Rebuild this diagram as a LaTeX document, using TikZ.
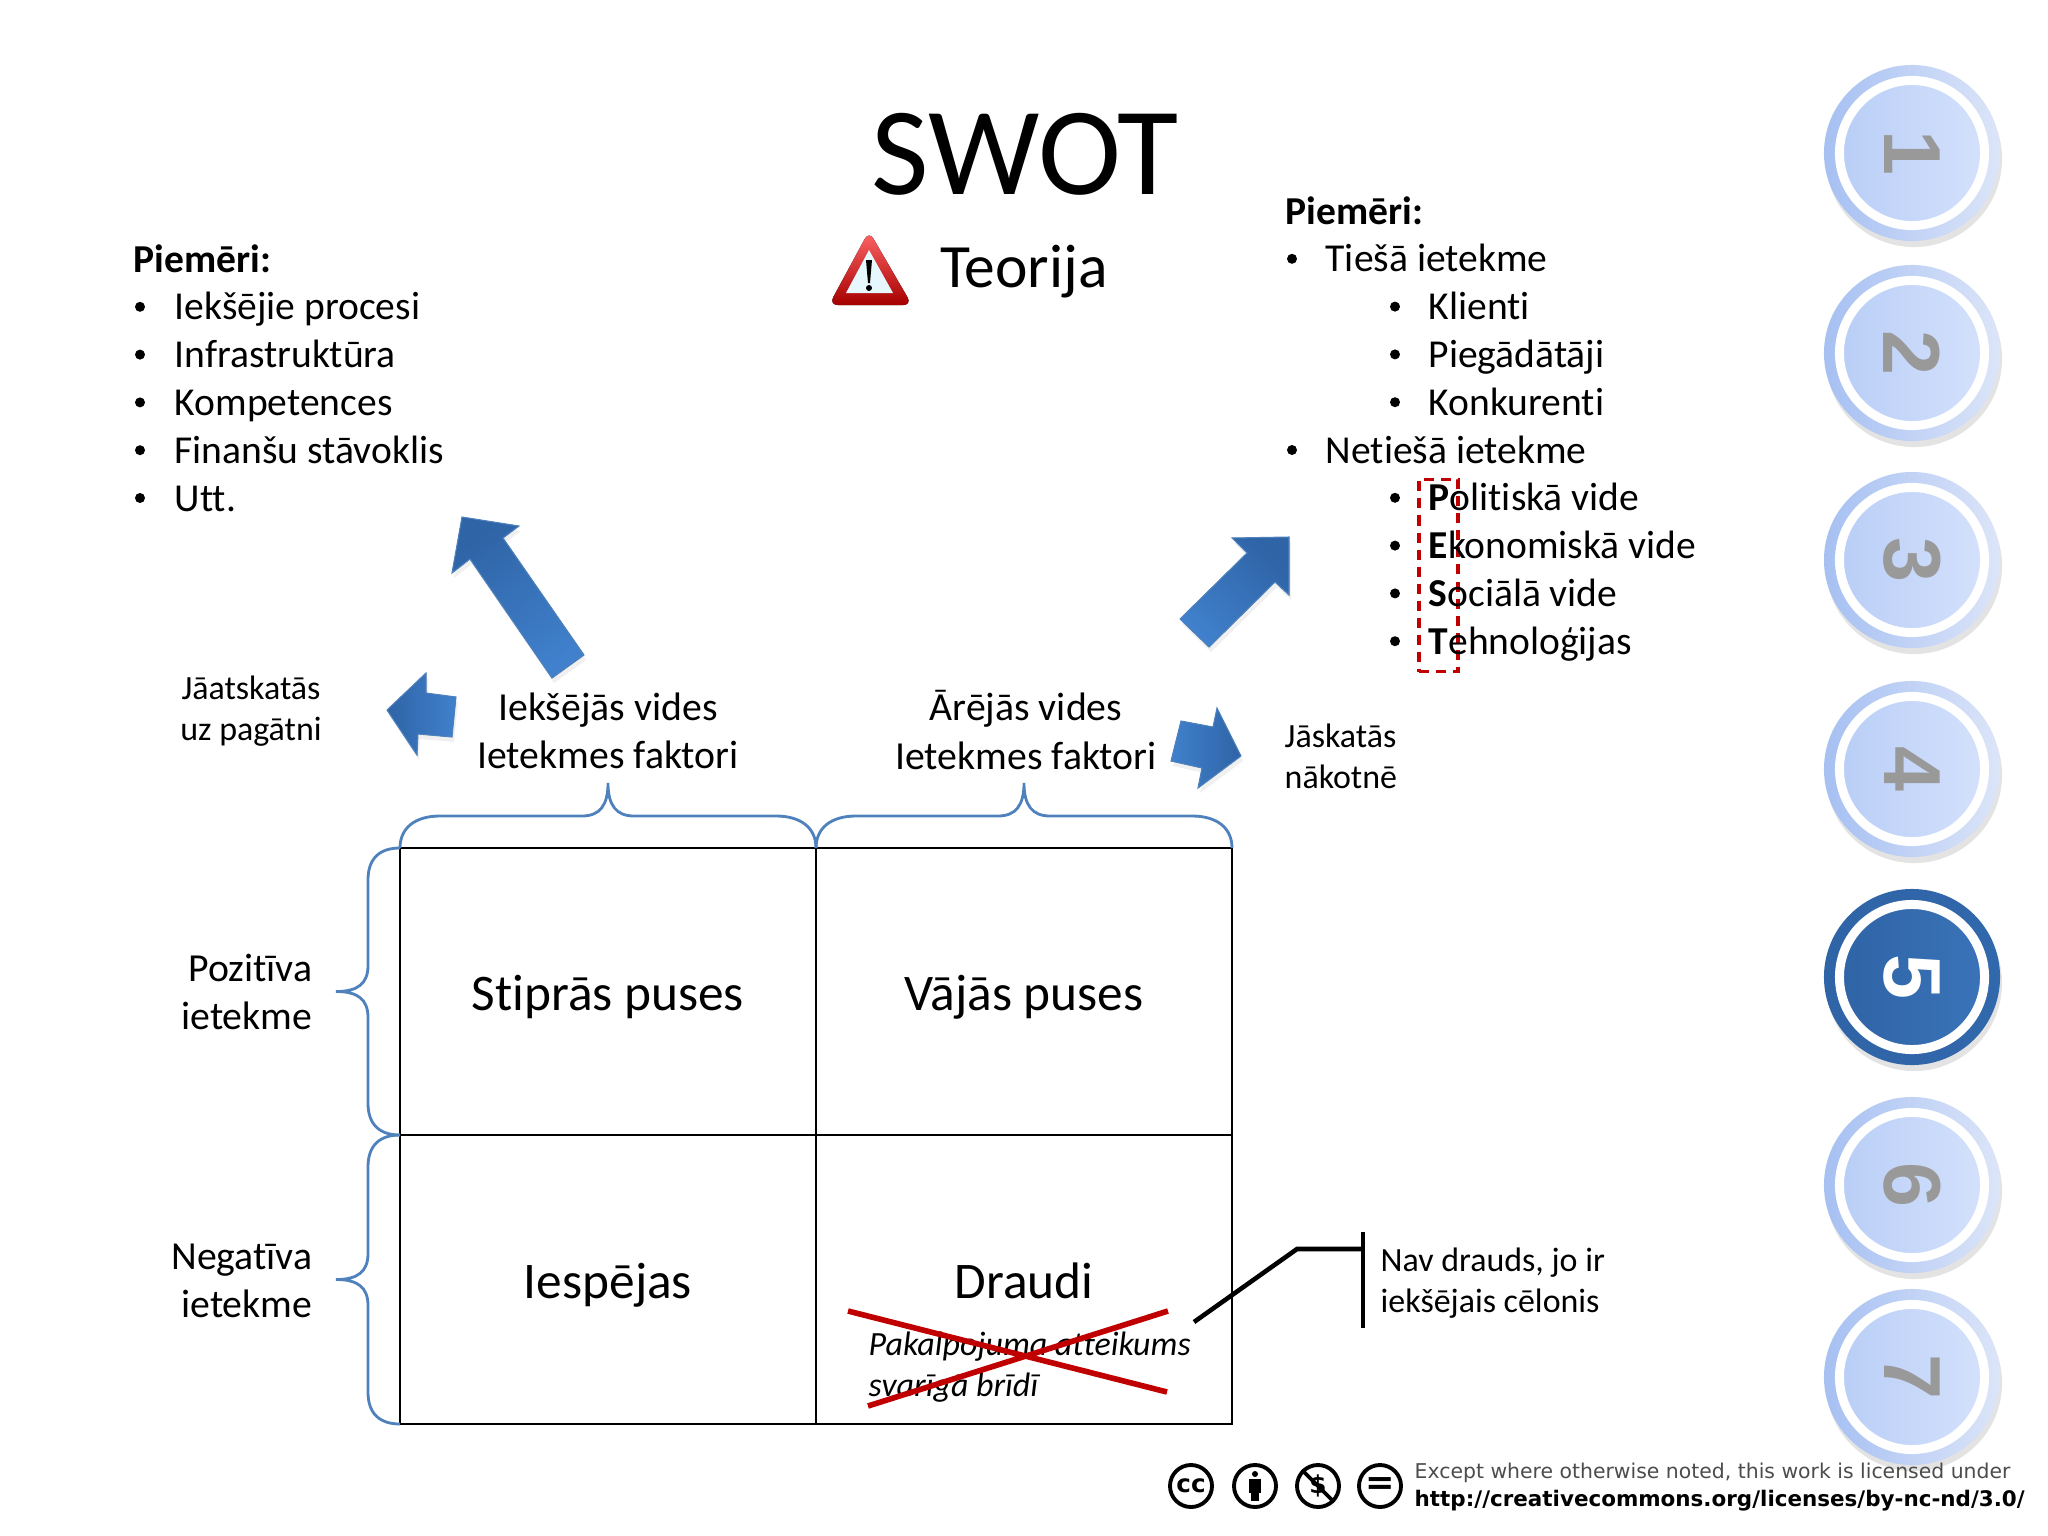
\documentclass[tikz,border=0pt]{standalone}
\usepackage{fontspec}
\usepackage{graphicx}
\setmainfont{Carlito}[Ligatures=CommonOff]
\newfontfamily\ccfont{DejaVu Sans}
\newfontfamily\digitfont{Liberation Sans}
\usetikzlibrary{shadows}
\definecolor{braceblue}{HTML}{4F81BD}
\definecolor{headblue}{HTML}{2F64A6}
\definecolor{tailblue}{HTML}{4080CC}
\definecolor{crossred}{HTML}{C00000}
\definecolor{paleleft}{HTML}{A6C0F2}
\definecolor{paleright}{HTML}{DCE5F8}
\definecolor{faceleft}{HTML}{B9CEF6}
\definecolor{faceright}{HTML}{D4E1FC}
\begin{document}
\begin{tikzpicture}
    [x=0.01cm,y=-0.01cm,
     titletext/.style={inner sep=0pt,font=\fontsize{35.6}{42}\selectfont},
     subtitle/.style={inner sep=0pt,font=\fontsize{17.5}{20}\selectfont},
     bigtext/.style={inner sep=0pt,align=center,font=\fontsize{11.3}{13.66}\selectfont},
     listtext/.style={inner sep=0pt,anchor=base west,font=\fontsize{11.25}{13.66}\selectfont},
     listdot/.style={circle,fill,inner sep=0pt,minimum size=0.1cm},
     smalltext/.style={inner sep=0pt,align=left,font=\fontsize{9.65}{11.66}\selectfont},
     celltext/.style={draw,line width=0.75pt,inner sep=0pt,minimum width=4.16cm,
       text height=13pt,text depth=2.4pt,font=\fontsize{14.6}{18}\selectfont},
     bluebrace/.style={draw=braceblue,line width=0.8pt},
     bigarrow/.style={top color=headblue,bottom color=tailblue,draw=braceblue,line width=0.3pt,
       drop shadow={shadow xshift=0.2mm,shadow yshift=-0.5mm,opacity=.12}},
     outerdisc/.style={circle,inner sep=0pt,minimum size=1.76cm,left color=#1,
       drop shadow={shadow xshift=0.2mm,shadow yshift=-0.6mm,opacity=.22}},
     innerdisc/.style={circle,inner sep=0pt,minimum size=1.45cm,draw=white,line width=0.09cm,
       font=\digitfont\bfseries\fontsize{23}{23}\selectfont},
     cclogo/.style={circle,draw,line width=1.1pt,inner sep=0pt,minimum size=0.42cm,
       font=\ccfont\bfseries\fontsize{7}{7}\selectfont},
     cctext/.style={inner sep=0pt,anchor=base west,font=\ccfont\fontsize{5.8}{6}\selectfont}]
    \useasboundingbox (0,0) rectangle (2048,1536);

    % title
    \node (title) at (1025,154) [titletext] {SWOT};
    \node (theory) at (1024,272) [subtitle] {Teorija};
    \fill [rounded corners=2.5pt,top color=red!60!white,bottom color=red!65!black]
      (869,231) -- (912,305) -- (829,305) -- cycle;
    \fill [white!90!cyan] (869,250) -- (893,293) -- (846,293) -- cycle;
    \fill (866,260) -- (872,260) -- (870,283) -- (868,283) -- cycle;
    \fill (869,288) circle (0.03cm);

    % lists
    \node (leftHead) at (133,272) [listtext] {\textbf{Piemēri:}};
    \foreach \txt [count=\i] in {Iekšējie procesi,Infrastruktūra,Kompetences,Finanšu stāvoklis,Utt.}
      {\node (leftDot\i) at (140,{259+47.8*\i}) [listdot] {};
       \node (leftItem\i) at (174,{272+47.8*\i}) [listtext] {\txt};}

    \node (pestBox) at (1438.5,575.5) [draw=crossred,dashed,line width=0.9pt,
      dash pattern=on 0.1cm off 0.07cm,minimum width=0.39cm,minimum height=1.92cm,inner sep=0pt] {};
    \node (rightHead) at (1285,224) [listtext] {\textbf{Piemēri:}};
    \foreach \txt/\n in {Tiešā ietekme/1,Netiešā ietekme/5}
      {\node (rightDot\n) at (1292,{211+47.8*\n}) [listdot] {};
       \node (rightItem\n) at (1325,{224+47.8*\n}) [listtext] {\txt};}
    \foreach \txt/\n in {Klienti/2,Piegādātāji/3,Konkurenti/4,\textbf{P}olitiskā vide/6,
        \textbf{E}konomiskā vide/7,\textbf{S}ociālā vide/8,\textbf{T}ehnoloģijas/9}
      {\node (rightDot\n) at (1395,{211+47.8*\n}) [listdot] {};
       \node (rightItem\n) at (1428,{224+47.8*\n}) [listtext] {\txt};}

    % arrows
    \filldraw [bigarrow,shading angle=35] (462,517) -- (519,526) -- (503,538) -- (584,655)
      -- (552,678) -- (470,559) -- (452,573) -- cycle;
    \filldraw [bigarrow,shading angle=90] (387,710) -- (426,673) -- (426,693) -- (456,697)
      -- (452,737) -- (418,734) -- (417,755) -- cycle;
    \filldraw [bigarrow,shading angle=-45] (1289,537) -- (1232,538) -- (1247,553) -- (1180,619)
      -- (1209,647) -- (1275,582) -- (1289,595) -- cycle;
    \filldraw [bigarrow,shading angle=-90] (1241,756) -- (1217,708) -- (1213,727) -- (1181,721)
      -- (1171,761) -- (1202,768) -- (1198,788) -- cycle;

    % labels round the table
    \node (lookBack) at (251,711) [smalltext,align=center] {Jāatskatās\\uz pagātni};
    \node (lookAhead) at (1284,756) [smalltext,anchor=west] {Jāskatās\\nākotnē};
    \node (inner) at (608,731) [bigtext] {Iekšējās vides\\Ietekmes faktori};
    \node (outer) at (1026,730) [bigtext] {Ārējās vides\\Ietekmes faktori};
    \node (positive) at (313,992) [bigtext,align=right,anchor=east] {Pozitīva\\ietekme};
    \node (negative) at (313,1281) [bigtext,align=right,anchor=east] {Negatīva\\ietekme};

    % table
    \node (strong) at (608,991.5) [celltext,minimum height=2.87cm] {Stiprās puses};
    \node (weak) at (1024,991.5) [celltext,minimum height=2.87cm] {Vājās puses};
    \node (chance) at (608,1279.5) [celltext,minimum height=2.89cm] {Iespējas};
    \node (threat) at (1024,1279.5) [celltext,minimum height=2.89cm] {Draudi};

    % braces
    \foreach \s in {0,416}
      {\draw [bluebrace,xshift=\s*0.01cm] (400,848) .. controls (400,828) and (415,816) .. (440,816)
         -- (582,816) .. controls (600,816) and (608,805) .. (608,783)
         .. controls (608,805) and (616,816) .. (634,816) -- (776,816)
         .. controls (801,816) and (816,828) .. (816,848);}
    \foreach \s/\h in {0/287,287/289}
      {\draw [bluebrace,yshift=-\s*0.01cm] (400,848) .. controls (380,848) and (368,858) .. (368,880)
         -- ({368},{848+\h/2-26}) .. controls (368,{848+\h/2-8}) and (358,{848+\h/2}) .. (336,{848+\h/2})
         .. controls (358,{848+\h/2}) and (368,{848+\h/2+8}) .. (368,{848+\h/2+26})
         -- (368,{848+\h-32}) .. controls (368,{848+\h-10}) and (380,{848+\h}) .. (400,{848+\h});}

    % crossed out example
    \node (example) at (868,1367) [smalltext,anchor=west,font=\itshape\fontsize{9.65}{11.66}\selectfont]
      {Pakalpojuma atteikums\\svarīgā brīdī};
    \coordinate (crossA) at (848,1311);
    \coordinate (crossB) at (1167,1392);
    \coordinate (crossC) at (868,1406);
    \coordinate (crossD) at (1168,1311);
    \draw [crossred,line width=1.6pt] (crossA) -- (crossB) (crossC) -- (crossD);

    % remark
    \node (remark) at (1380,1283) [smalltext,anchor=west] {Nav drauds, jo ir\\iekšējais cēlonis};
    \coordinate (barTop) at (1363,1232);
    \coordinate (barEnd) at (1363,1328);
    \coordinate (barMid) at (1363,1249);
    \coordinate (bend) at (1297,1249);
    \coordinate (free) at (1194,1322);
    \draw [line width=1.3pt] (free) -- (bend) -- (barMid);
    \draw [line width=1.3pt] (barTop) -- (barEnd);

    % steps
    \foreach \n/\yc in {1/153,2/353,3/560,4/769,6/1185,7/1377}
      {\node (disc\n) at (1912,\yc) [outerdisc=paleleft,right color=paleright] {};
       \node (num\n) at (disc\n) [innerdisc,left color=faceleft,right color=faceright,
         text=black!40] {\rotatebox{-90}{\n}};}
    \node (disc5) at (1912,977) [outerdisc=headblue,right color=headblue!85!tailblue] {};
    \node (num5) at (disc5) [innerdisc,left color=headblue,right color=tailblue!90!black,
      text=white] {\rotatebox{-90}{5}};

    % licence line
    \node (ccBy) at (1191,1486) [cclogo] {cc};
    \node (ccPerson) at (1255,1486) [cclogo] {};
    \fill (1255,1474) circle (0.03cm);
    \fill (1249,1479) rectangle (1261,1493);
    \fill (1251,1493) rectangle (1259,1501);
    \node (ccDollar) at (1318,1486) [cclogo] {\$};
    \draw [line width=1.1pt] (ccDollar.north west) -- (ccDollar.south east);
    \node (ccEqual) at (1380,1486) [cclogo,font=\ccfont\bfseries\fontsize{10}{10}\selectfont] {=};
    \node (ccLine) at (1414,1478) [cctext,text=black!70] {Except where otherwise noted, this work is licensed under};
    \node (ccLink) at (1414,1506) [cctext,font=\ccfont\bfseries\fontsize{6.1}{6}\selectfont]
      {http://creativecommons.org/licenses/by-nc-nd/3.0/};
\end{tikzpicture}
\end{document}
